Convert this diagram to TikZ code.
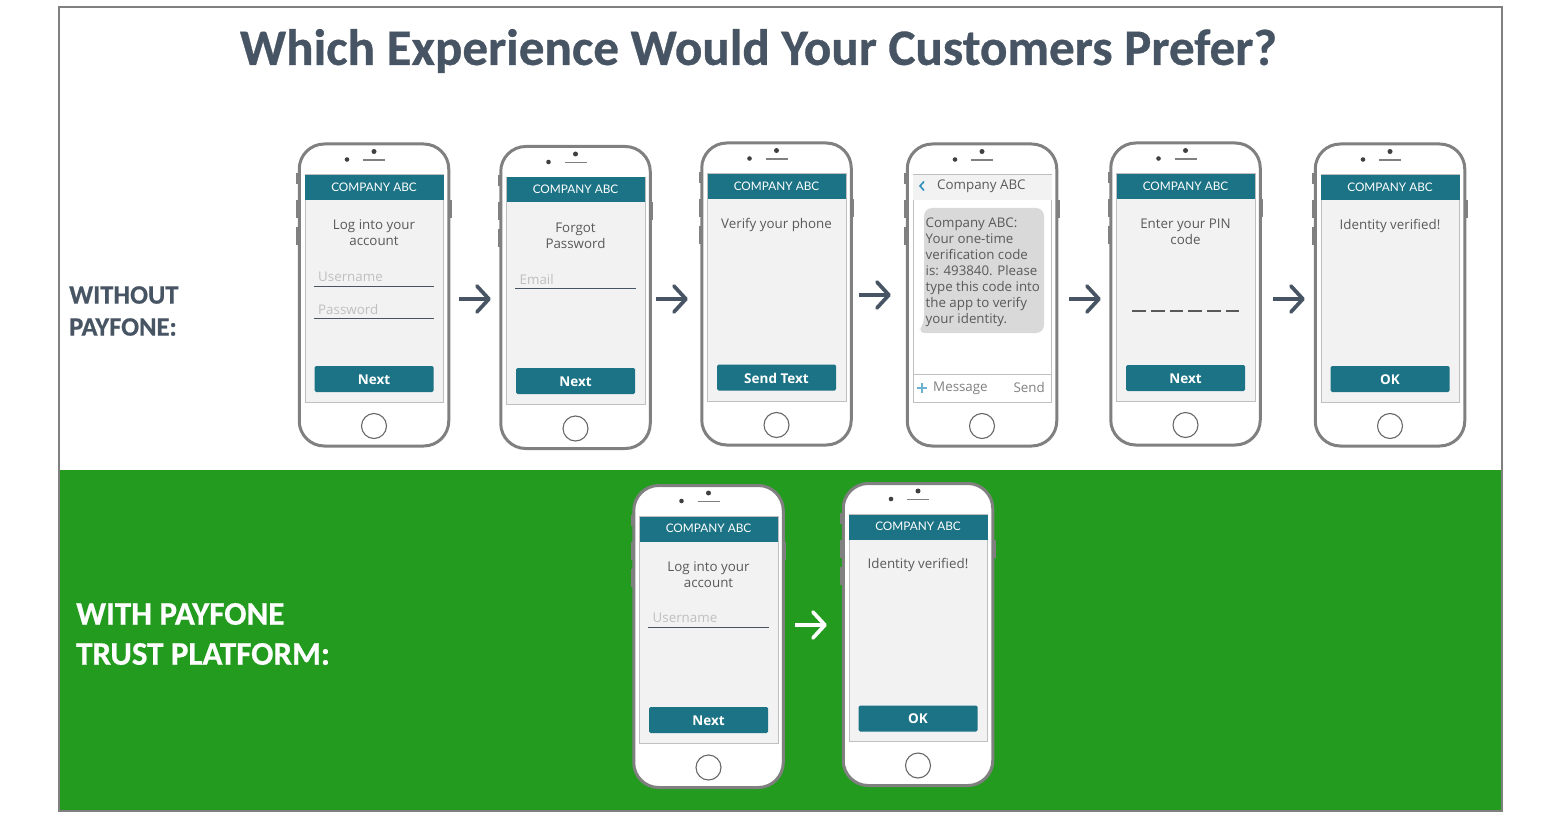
\documentclass[tikz,border=0pt]{standalone}
\usepackage{fontspec}
\setmainfont{Open Sans}
\newfontfamily\carl[BoldFeatures={FakeBold=0.6}]{Carlito}
\newfontfamily\hdr{Lato}
\usetikzlibrary{arrows.meta}
\definecolor{slate}{HTML}{475463}
\definecolor{teal}{HTML}{1B7385}
\definecolor{leaf}{HTML}{239B1F}
\definecolor{screenbg}{HTML}{F2F2F2}
\definecolor{shell}{HTML}{808080}
\definecolor{copy}{HTML}{595959}
\definecolor{hint}{HTML}{BFBFBF}
\definecolor{bubble}{HTML}{D9D9D9}
\definecolor{tick}{HTML}{2E8FBF}
\tikzset{
  phonebody/.style={draw=shell,fill=white,line width=3pt,rounded corners=25pt,minimum width=149.5pt,minimum height=302pt,inner sep=0pt,outer sep=0pt},
  sidekey/.style={fill=shell},
  screenbox/.style={draw=hint,fill=screenbg,line width=1pt},
  headbar/.style={fill=teal},
  headtext/.style={text=white,font=\hdr\fontsize{11.8}{14}\selectfont,inner sep=0pt},
  bodytext/.style={text=copy,font=\fontsize{13.35}{16}\selectfont,align=center,inner sep=0pt},
  hinttext/.style={text=hint,font=\fontsize{13.35}{16}\selectfont,anchor=west,inner sep=0pt},
  fieldrule/.style={draw=slate,line width=1.8pt},
  actionbtn/.style={fill=teal,rounded corners=1.5pt,minimum width=119pt,minimum height=26pt,inner sep=0pt},
  btntext/.style={text=white,font=\bfseries\fontsize{13.5}{16}\selectfont,inner sep=0pt},
  flow/.style={draw=slate,line width=3.7pt,-{Straight Barb[length=12pt,width=26pt,line cap=round,round]}},
  flowlight/.style={flow,draw=white},
  smstext/.style={text=copy,font=\fontsize{13.3}{16}\selectfont,align=left,inner sep=0pt,anchor=north west},
}
\newcommand{\phone}[4]{%
  \begin{scope}[shift={(#2,#3)}]
    \fill[sidekey] (-77.8,30) rectangle (-75,41);
    \fill[sidekey] (-77.8,57) rectangle (-75,75);
    \fill[sidekey] (-77.8,84) rectangle (-75,102);
    \fill[sidekey] (75,57) rectangle (77.8,75);
    \node[phonebody] (#1) at (0,152) {};
    \fill[shell!50!black] (0,8.5) circle (2.5);
    \fill[shell!50!black] (-27,16.5) circle (2.3);
    \draw[shell,line width=1.8pt] (-11,17) -- (11,17);
    \draw[shell!80!black,line width=1.1pt] (0,283) circle (12.5);
    \draw[screenbox] (-69,32) rectangle (69.5,259);
    #4
  \end{scope}}
\newcommand{\headbar}[1]{%
  \fill[headbar] (-69,32) rectangle (69.5,57);
  \node[headtext] (#1h) at (0,44) {COMPANY ABC};}
\newcommand{\field}[3]{%
  \node[hinttext] (#1) at (-56,#2-9.5) {#3};
  \draw[fieldrule] (-60.5,#2) -- (60,#2);}
\newcommand{\actionbutton}[3]{%
  \node[actionbtn] (#1) at (0,#2) {};
  \node[btntext] (#1t) at (0,#2+0.5) {#3};}
\begin{document}
\begin{tikzpicture}[x=1pt,y=-1pt]
\useasboundingbox (0,0) rectangle (1562,818);
\fill[white] (0,0) rectangle (1562,818);
\fill[leaf] (59,470) rectangle (1502,811);
\draw[shell,line width=1.2pt] (59,7) rectangle (1502,811);

\node[text=slate,font=\carl\bfseries\fontsize{51.1}{56}\selectfont,inner sep=0pt] (title) at (758.5,51) {Which Experience Would Your Customers Prefer?};
\node[text=slate,font=\carl\bfseries\fontsize{26.5}{32}\selectfont,align=left,anchor=west,inner sep=0pt] (without) at (69,311) {WITHOUT\\PAYFONE:};
\node[text=white,font=\carl\bfseries\fontsize{33}{40}\selectfont,align=left,anchor=west,inner sep=0pt] (withp) at (76,634) {WITH PAYFONE\\TRUST PLATFORM:};

\phone{p1}{374}{143}{
  \headbar{p1}
  \node[bodytext] (p1t) at (0,90) {Log into your\\account};
  \field{p1u}{143.5}{Username}
  \field{p1w}{175.5}{Password}
  \actionbutton{p1b}{236}{Next}
}
\phone{p2}{575.5}{145.5}{
  \headbar{p2}
  \node[bodytext] (p2t) at (0,90) {Forgot\\Password};
  \field{p2u}{143}{Email}
  \actionbutton{p2b}{235.5}{Next}
}
\phone{p3}{776.5}{142}{
  \headbar{p3}
  \node[bodytext] (p3t) at (0,83) {Verify your phone};
  \actionbutton{p3b}{235.5}{Send Text}
}
\phone{p4}{982}{143}{
  \fill[white] (-69,57) rectangle (69.5,259);
  \draw[hint,line width=1pt] (-69,32) -- (-69,259) -- (69.5,259) -- (69.5,32);
  \draw[hint,line width=1pt] (-69,231) -- (69.5,231);
  \fill[screenbg] (-69,32) rectangle (69.5,57);
  \draw[tick,line width=1.6pt] (-58,38.5) -- (-62,43) -- (-58,47.5);
  \node[text=copy,font=\fontsize{13.35}{16}\selectfont,anchor=west,inner sep=0pt] (p4h) at (-45,43.5) {Company ABC};
  \fill[bubble,rounded corners=8pt] (-58,65) -- (62,65) -- (62,190) -- (-65,190) -- (-58,182) -- cycle;
  \node[smstext] (p4s) at (-56.5,75) {Company ABC:\\Your one-time\\verification code\\is: 493840. Please\\type this code into\\the app to verify\\your identity.};
  \draw[tick!70!white,line width=1.2pt] (-65,245) -- (-55,245) (-60,240) -- (-60,250);
  \node[hinttext,text=shell] (p4m) at (-49,245.5) {Message};
  \node[hinttext,text=shell,anchor=east] (p4d) at (63,244) {Send};
}
\phone{p5}{1185.5}{142}{
  \headbar{p5}
  \node[bodytext] (p5t) at (0,90) {Enter your PIN\\code};
  \draw[draw=copy,line width=2pt,dash pattern=on 13.5pt off 5.2pt] (-53.2,168.5) -- (53.8,168.5);
  \actionbutton{p5b}{236}{Next}
}
\phone{p6}{1390}{143}{
  \headbar{p6}
  \node[bodytext] (p6t) at (0,82.5) {Identity verified!};
  \actionbutton{p6b}{236}{OK}
}
\phone{b1}{708.5}{484.5}{
  \headbar{b1}
  \node[bodytext] (b1t) at (0,90) {Log into your\\account};
  \field{b1u}{143}{Username}
  \actionbutton{b1b}{235.5}{Next}
}
\phone{b2}{918}{482.5}{
  \headbar{b2}
  \node[bodytext] (b2t) at (0,82) {Identity verified!};
  \actionbutton{b2b}{236}{OK}
}

\draw[flow,shorten <=10.5pt,shorten >=10pt] ([yshift=-4pt]p1.east) -- ([yshift=-4pt]p1.east -| p2.west);
\draw[flow,shorten <=6pt,shorten >=14pt] ([yshift=-1.5pt]p2.east) -- ([yshift=-1.5pt]p2.east -| p3.west);
\draw[flow,shorten <=8pt,shorten >=16.5pt] ([yshift=-1pt]p3.east) -- ([yshift=-1pt]p3.east -| p4.west);
\draw[flow,shorten <=12.5pt,shorten >=10pt] ([yshift=-4pt]p4.east) -- ([yshift=-4pt]p4.east -| p5.west);
\draw[flow,shorten <=13pt,shorten >=10.5pt] ([yshift=-5pt]p5.east) -- ([yshift=-5pt]p5.east -| p6.west);
\draw[flowlight,shorten <=12pt,shorten >=16.5pt] ([yshift=11.5pt]b1.east) -- ([yshift=11.5pt]b1.east -| b2.west);
\end{tikzpicture}
\end{document}
